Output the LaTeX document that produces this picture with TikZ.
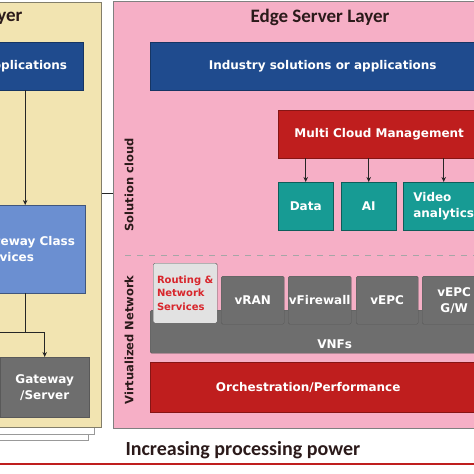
\documentclass[tikz,border=0pt]{standalone}
\usepackage{fontspec}
\setmainfont{DejaVu Sans}
\newfontfamily\titlefont{Carlito}
\usetikzlibrary{arrows.meta}

\definecolor{panelyellow}{HTML}{F2E4B1}
\definecolor{panelpink}{HTML}{F6AFC6}
\definecolor{navy}{HTML}{1F4B8E}
\definecolor{skyblue}{HTML}{6B8FD1}
\definecolor{boxred}{HTML}{BF1E1E}
\definecolor{teal}{HTML}{179B94}
\definecolor{boxgray}{HTML}{6E6E6E}
\definecolor{palegray}{HTML}{E2E2E2}
\definecolor{routered}{HTML}{D8262C}
\definecolor{darktext}{HTML}{2B1A1A}

\begin{document}
\begin{tikzpicture}[x=1pt, y=-1pt,
    blk/.style={anchor=north west, inner sep=0pt, text=white, align=center, font=\bfseries\fontsize{12}{16}\selectfont},
    navybox/.style={blk, fill=navy, draw=navy!70!black},
    redbox/.style={blk, fill=boxred, draw=boxred!70!black},
    tealbox/.style={blk, fill=teal, draw=teal!60!black},
    graybox/.style={blk, fill=boxgray, draw=black!65, rounded corners=1.5pt},
    arr/.style={-{Stealth[length=5pt,width=4.5pt]}, line width=1pt, black!85},
    sidelabel/.style={rotate=90, text=darktext, font=\bfseries\fontsize{11.5}{14}\selectfont},
]
\useasboundingbox (0,0) rectangle (474,474);

% stacked pages behind the left layer
\draw[fill=white, draw=black!40] (-30,20) rectangle (88,440);
\draw[fill=white, draw=black!40] (-25,14) rectangle (94,434);

% the two layers
\node[anchor=north west, fill=panelyellow, draw=black!45!panelyellow!70!gray, line width=1pt, minimum width=111pt, minimum height=425pt] (lp) at (-10,2) {};
\node[anchor=north west, fill=panelpink, draw=black!50, line width=1pt, minimum width=380pt, minimum height=427pt] (ep) at (113,1) {};
\coordinate (link) at (0,193);
\draw[line width=1pt, black!85] (lp.east |- link) -- (ep.west |- link);

\node[anchor=east, text=darktext, font=\titlefont\bfseries\fontsize{19}{22}\selectfont] (lptitle) at (26,17) {Layer};
\node[text=darktext, font=\titlefont\bfseries\fontsize{19}{22}\selectfont] (eptitle) at (320,17) {Edge Server Layer};

% left layer
\node[navybox, minimum width=116pt, minimum height=48pt] (apps) at (-33,42) {Applications};
\node[blk, fill=skyblue, draw=skyblue!60!black, align=left, minimum width=118.5pt, minimum height=88pt] (gwclass) at (-33.5,205) {Gateway Class\\Services};
\node[graybox, rounded corners=0pt, minimum width=89pt, minimum height=60pt] (gwsrv) at (0,357) {Gateway\\/Server};
\coordinate (split) at (-20,332);
\draw[arr] (apps.south) -- (apps.south |- gwclass.north);
\draw[line width=1pt, black!85] (gwclass.south) -- (gwclass.south |- split);
\draw[arr] (split) -| (gwsrv.north);

% solution cloud
\node[sidelabel] (solcl) at (129,185) {Solution cloud};
\node[navybox, minimum width=345pt, minimum height=48pt] (industry) at (150,42) {Industry solutions or applications};
\node[redbox, minimum width=202pt, minimum height=48pt] (mcm) at (278,110) {Multi Cloud Management};
\node[tealbox, minimum width=55pt, minimum height=48pt] (data) at (278,182) {Data};
\node[tealbox, minimum width=55pt, minimum height=48pt] (ai) at (341,182) {AI};
\node[tealbox, align=left, minimum width=81pt, minimum height=48pt] (video) at (403,182) {Video\\analytics};
\foreach \n in {data, ai, video}
    \draw[arr] (\n.north |- mcm.south) -- (\n.north);

\draw[black!35, line width=1pt, dash pattern=on 6pt off 6pt] (125,255) -- (480,255);

% virtualized network
\node[sidelabel] (virt) at (129,340) {Virtualized Network};
\node[graybox, minimum width=334pt, minimum height=43pt] (vnfs) at (150,310) {};
\node[blk] at ([yshift=14pt]vnfs.south) {VNFs};
\node[graybox, fill=palegray, text=routered, align=left, font=\bfseries\fontsize{10}{13.5}\selectfont, minimum width=64pt, minimum height=60pt] (routing) at (153,263) {Routing \&\\Network\\Services};
\node[graybox, minimum width=63pt, minimum height=48pt] (vran) at (221,276) {vRAN};
\node[graybox, minimum width=63pt, minimum height=48pt] (vfw) at (288,276) {vFirewall};
\node[graybox, minimum width=62pt, minimum height=48pt] (vepc) at (356,276) {vEPC};
\node[graybox, minimum width=64pt, minimum height=48pt] (vepcgw) at (422,276) {vEPC\\G/W};
\node[redbox, minimum width=334pt, minimum height=50pt] (orch) at (150,362) {Orchestration/Performance\hspace{18pt}};

% processing power
\node[anchor=west, text=darktext, font=\titlefont\bfseries\fontsize{20}{24}\selectfont] (power) at (122,450) {Increasing processing power};
\draw[boxred, line width=1.6pt] (-5,464) -- (480,464);
\end{tikzpicture}
\end{document}
